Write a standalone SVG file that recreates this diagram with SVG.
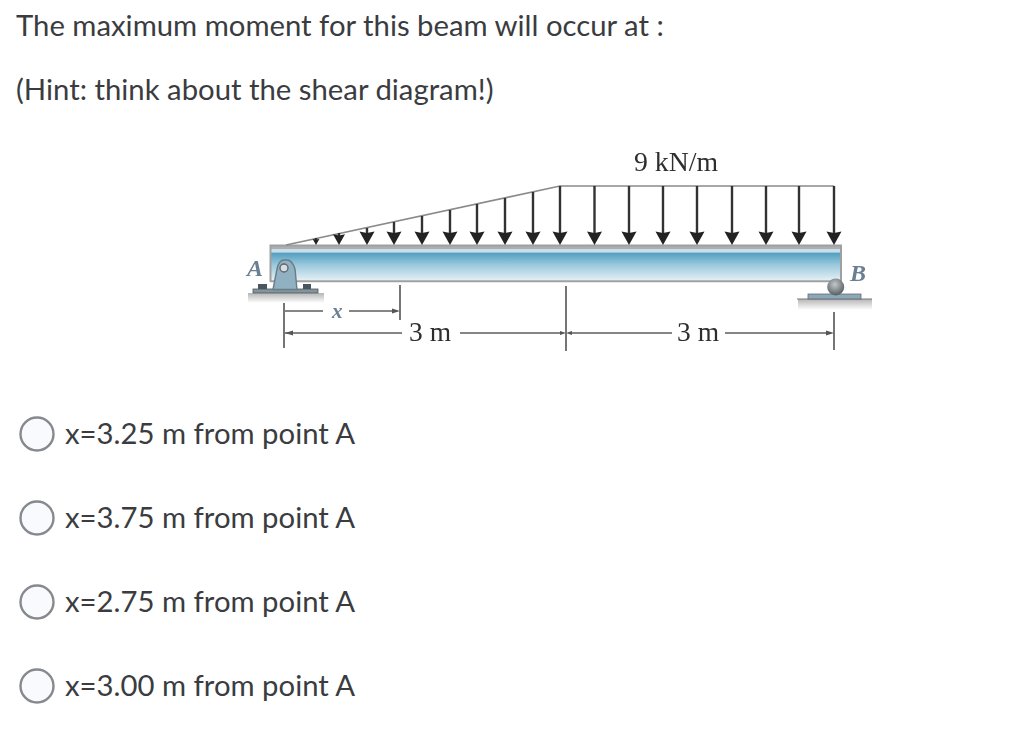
<svg xmlns="http://www.w3.org/2000/svg" width="1014" height="740" viewBox="0 0 1014 740">
<style>
.q{font-family:Lato,"Liberation Sans",sans-serif;font-size:29.3px;fill:#3a3c3f}
.o{font-family:Lato,"Liberation Sans",sans-serif;font-size:29.3px;fill:#3a3c3f}
.s{font-family:"Liberation Serif",serif;font-size:27.500px;fill:#2f2f2f}
.l{font-family:"Liberation Serif",serif;font-size:24px;font-style:italic;font-weight:bold;fill:#6a7f92}
.radio{fill:#f9fafe;stroke:#868a8e;stroke-width:2.4}
.dim{stroke:#5e5e5e;stroke-width:1.7;fill:none}
.load{stroke:#333;stroke-width:2.4;fill:none}
.edge{stroke:#a0a0a0;stroke-width:2;fill:none}
</style>
<defs>
<linearGradient id="beam" x1="0" y1="0" x2="0" y2="1">
<stop offset="0" stop-color="#4f9dbf"/><stop offset="0.45" stop-color="#9cc9dc"/><stop offset="1" stop-color="#e4f0f6"/>
</linearGradient>
<linearGradient id="shadow" x1="0" y1="0" x2="0" y2="1">
<stop offset="0" stop-color="#b5b5b5"/><stop offset="1" stop-color="#ffffff"/>
</linearGradient>
<radialGradient id="ball" cx="0.45" cy="0.35" r="0.7"><stop offset="0" stop-color="#c4c8ca"/><stop offset="1" stop-color="#4d5559"/></radialGradient>
<filter id="soft" x="-5%" y="-5%" width="110%" height="110%"><feGaussianBlur stdDeviation="0.7"/></filter>
<path id="head" d="M-7.500 -13.500 L0 -12 L7.500 -13.500 L0 0 Z" fill="#242424"/>
</defs>

<text class="q" x="16" y="36">The maximum moment for this beam will occur at :</text>
<text class="q" x="16" y="100">(Hint: think about the shear diagram!)</text>

<g id="figure" filter="url(#soft)">
<g id="beam-body">
<rect x="270" y="245" width="571" height="37" fill="#fff"/>
<rect x="270.500" y="245" width="570" height="4.500" fill="#a9b0b4"/>
<rect x="271" y="249.500" width="569" height="3" fill="#c9e0ea"/>
<rect x="271" y="252.500" width="569" height="28" fill="url(#beam)"/>
<path class="edge" d="M270.500 282V245.500H841V282M270.500 281.200H841"/>
</g>
<g id="load">
<path d="M286 245L560 186H834" stroke="#8a8a8a" stroke-width="1.600" fill="none"/>
<g class="load">
<path d="M316 240V238M339 240V233M367 240V228M394 240V222M422 240V216M450 240V210M477 240V204M505 240V198M533 240V192M560 240V186M594.500 240V186M629 240V186M663 240V186M697 240V186M732 240V186M766 240V186M799 240V186M834 240V186"/>
</g>
<use href="#head" x="316" y="245" transform="translate(316 245) scale(.45) translate(-316 -245)"/>
<use href="#head" x="339" y="245" transform="translate(339 245) scale(.8) translate(-339 -245)"/>
<use href="#head" x="367" y="245"/><use href="#head" x="394" y="245"/><use href="#head" x="422" y="245"/><use href="#head" x="450" y="245"/><use href="#head" x="477" y="245"/><use href="#head" x="505" y="245"/><use href="#head" x="533" y="245"/><use href="#head" x="560" y="245"/><use href="#head" x="594.500" y="245"/><use href="#head" x="629" y="245"/><use href="#head" x="663" y="245"/><use href="#head" x="697" y="245"/><use href="#head" x="732" y="245"/><use href="#head" x="766" y="245"/><use href="#head" x="799" y="245"/><use href="#head" x="834" y="245"/>
</g>
<g id="node-a">
<rect x="248" y="293" width="76" height="10" fill="url(#shadow)"/>
<rect x="253" y="289" width="65" height="4" fill="#7f95a0" stroke="#555" stroke-width="0.800"/>
<path d="M273 289.500L277 269Q279 260 284 260H287Q292 260 295 269L297 289.500Z" fill="#8fb1c2" stroke="#6b7b85" stroke-width="1.400"/>
<circle cx="284" cy="268" r="4" fill="#d7dee2" stroke="#5e666b" stroke-width="1.400"/>
<path d="M258 289V284H267V289ZM303 289V284H311V289Z" fill="#46565f"/>
</g>
<g id="node-b">
<rect x="798" y="299" width="74" height="11" fill="url(#shadow)"/>
<path d="M797 299H872" stroke="#777" stroke-width="1.200"/>
<rect x="808" y="294" width="53" height="5" fill="#8aa8b6" stroke="#667" stroke-width="0.800"/>
<circle cx="835.700" cy="287" r="8.500" fill="url(#ball)"/>
</g>
<text class="l" x="247" y="276">A</text>
<text class="l" x="850" y="281">B</text>
<text class="s" x="634" y="171" textLength="84" lengthAdjust="spacingAndGlyphs">9 kN/m</text>
<g id="dimensions">
<path class="dim" d="M284 303V348M400 285V320M566 286V351M834 312V350"/>
<path class="dim" d="M285 311H323M349 311H396M285 333H402M460 333H562M570 333H672M725 333H830"/>
<path d="M400 311l-8 -2.500v5zM285 333l8 -2.500v5zM566 333l-6 -2v4zM566 333l6 -2v4zM834 333l-8 -2.500v5z" fill="#555"/>
<text class="s" x="332" y="318" style="font-size:21px;font-style:italic;fill:#6a7f92;font-weight:bold">x</text>
<text class="s" x="409" y="341">3 m</text>
<text class="s" x="677" y="341">3 m</text>
</g>
</g>

<g id="option-1"><circle class="radio" cx="37" cy="434" r="16.500"/><text class="o" x="65" y="444">x=3.25 m from point A</text></g>
<g id="option-2"><circle class="radio" cx="37" cy="518" r="16.500"/><text class="o" x="65" y="528">x=3.75 m from point A</text></g>
<g id="option-3"><circle class="radio" cx="37" cy="602" r="16.500"/><text class="o" x="65" y="612">x=2.75 m from point A</text></g>
<g id="option-4"><circle class="radio" cx="37" cy="686" r="16.500"/><text class="o" x="65" y="696">x=3.00 m from point A</text></g>
</svg>
